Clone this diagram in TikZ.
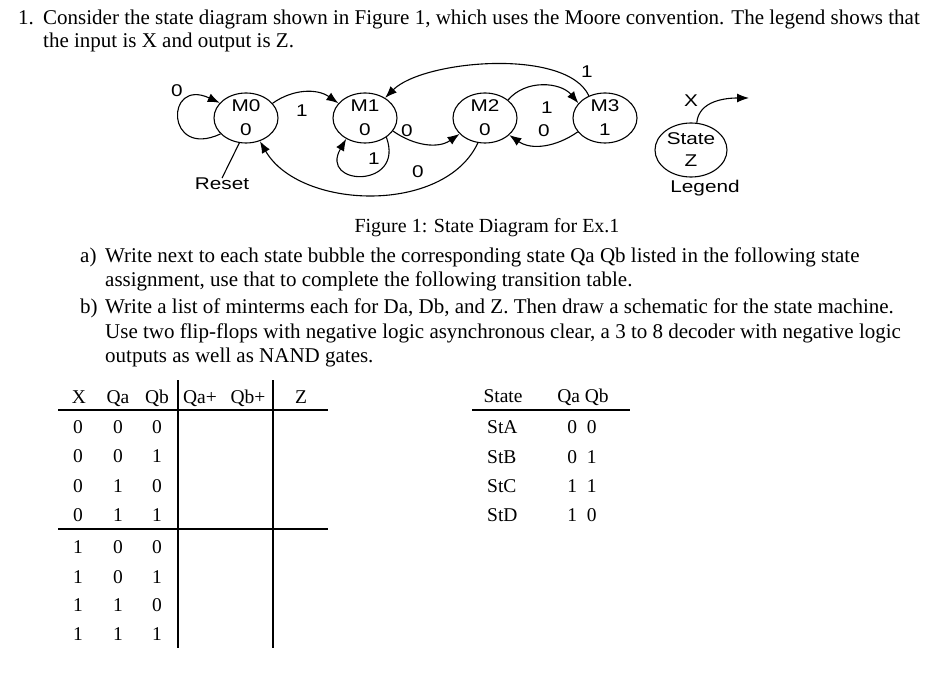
\documentclass[tikz,border=0pt]{standalone}
\usepackage{fontspec}
\setmainfont{Liberation Serif}
\newfontfamily\diagfont[FakeStretch=1.22]{Liberation Sans}
\usetikzlibrary{shapes.geometric,arrows.meta,positioning}

\begin{document}
\begin{tikzpicture}[x=1pt,y=-1pt,
    state/.style={ellipse, draw, line width=1.1pt, align=center, inner xsep=0pt, inner ysep=-1pt,
      minimum width=64pt, minimum height=50pt, font=\diagfont\fontsize{17}{24}\selectfont},
    lbl/.style={inner sep=0pt, font=\diagfont\fontsize{17}{20}\selectfont},
    trans/.style={line width=1.1pt, -{Latex[length=12pt,width=9pt]}},
    para/.style={anchor=base west, inner sep=0pt, font=\fontsize{21}{24}\selectfont},
    cell/.style={anchor=base, inner sep=0pt, font=\fontsize{19.5}{24}\selectfont},
    rule/.style={line width=1.3pt}]

  \useasboundingbox (0,0) rectangle (944,676);

  % question
  \node[para] (n1) at (18,25) {1.};
  \node[para] (l1) at (43,25) {Consider the state diagram shown in Figure 1, which uses the Moore convention. The legend shows that};
  \node[para] (l2) at (43,48) {the input is X and output is Z.};

  % states
  \node[state] (m0) at (246,118) {M0\\0};
  \node[state] (m1) at (365,118) {M1\\0};
  \node[state] (m2) at (485,118) {M2\\0};
  \node[state] (m3) at (605,118) {M3\\1};

  \draw[trans] (m0.212) to[out=205,in=155,looseness=5] (m0.150);
  \node[lbl] (t00) at (177,91) {0};
  \draw[trans] (m0.29) to[out=35,in=145] (m1.151);
  \node[lbl] (t01) at (302,111) {1};
  \draw[trans] (m1.-42) to[out=-70,in=-120,looseness=3.5] (m1.-132);
  \node[lbl] (t11) at (374,159) {1};
  \draw[trans] (m1.-25) to[out=-35,in=-145] (m2.-148);
  \node[lbl] (t12) at (407,131) {0};
  \draw[trans] (m2.-106) to[out=-115,in=-60,looseness=0.93] (m0.-59);
  \node[lbl] (t20) at (418,172) {0};
  \draw[trans] (m2.38) to[out=50,in=130] (m3.151);
  \node[lbl] (t23) at (547,108) {1};
  \draw[trans] (m3.207) to[out=-145,in=-35] (m2.-35);
  \node[lbl] (t32) at (544,131) {0};
  \draw[trans] (m3.126) to[out=115,in=45,looseness=0.67] (m1.45);
  \node[lbl] (t31) at (587,72) {1};

  \node[lbl, anchor=base] (reset) at (222,190) {Reset};
  \draw[line width=1.1pt] (m0.-105) -- (reset.north);

  % legend
  \node[state, minimum width=72pt, minimum height=54pt] (leg) at (691,150) {State\\[-2pt]Z};
  \coordinate (legout) at (749,98);
  \draw[trans] (leg.78) to[out=85,in=180] (legout);
  \node[lbl] (lx) at (691,101) {X};
  \node[lbl, anchor=base] (legtxt) at (705,193) {Legend};

  % caption and tasks
  \node[cell, font=\fontsize{20}{24}\selectfont] (cap) at (487,233) {Figure 1: State Diagram for Ex.1};
  \node[para] (pa) at (80,262) {a)};
  \node[para] (a1) at (105,262) {Write next to each state bubble the corresponding state Qa Qb listed in the following state};
  \node[para] (a2) at (105,286) {assignment, use that to complete the following transition table.};
  \node[para] (pb) at (80,313) {b)};
  \node[para] (b1) at (105,313) {Write a list of minterms each for Da, Db, and Z. Then draw a schematic for the state machine.};
  \node[para] (b2) at (105,338) {Use two flip-flops with negative logic asynchronous clear, a 3 to 8 decoder with negative logic};
  \node[para] (b3) at (105,362) {outputs as well as NAND gates.};

  % transition table
  \node[cell] (hx) at (79,403) {X};
  \node[cell] (ha) at (118,403) {Qa};
  \node[cell] (hb) at (157,403) {Qb};
  \node[cell] (hap) at (200,403) {Qa+};
  \node[cell] (hbp) at (248,403) {Qb+};
  \node[cell] (hz) at (301,403) {Z};
  \foreach \x/\a/\b/\y [count=\i] in {0/0/0/433, 0/0/1/462, 0/1/0/492, 0/1/1/521,
                                      1/0/0/553, 1/0/1/583, 1/1/0/611, 1/1/1/640}{
    \node[cell] (tx\i) at (78,\y) {\x};
    \node[cell] (ta\i) at (118,\y) {\a};
    \node[cell] (tb\i) at (157,\y) {\b};
  }
  \draw[rule] (58,410) -- (328,410);
  \draw[rule] (58,529) -- (328,529);
  \draw[rule] (178,380) -- (178,648);
  \draw[rule] (273,380) -- (273,648);

  % state assignment
  \node[cell] (hs) at (503,402) {State};
  \node[cell] (hq) at (583,402) {Qa Qb};
  \foreach \s/\v/\y [count=\i] in {StA/0~~0/433, StB/0~~1/463, StC/1~~1/492, StD/1~~0/521}{
    \node[para, font=\fontsize{19.5}{24}\selectfont] (s\i) at (487,\y) {\s};
    \node[cell] (v\i) at (582,\y) {\v};
  }
  \draw[rule] (472,410) -- (630,410);
\end{tikzpicture}
\end{document}
